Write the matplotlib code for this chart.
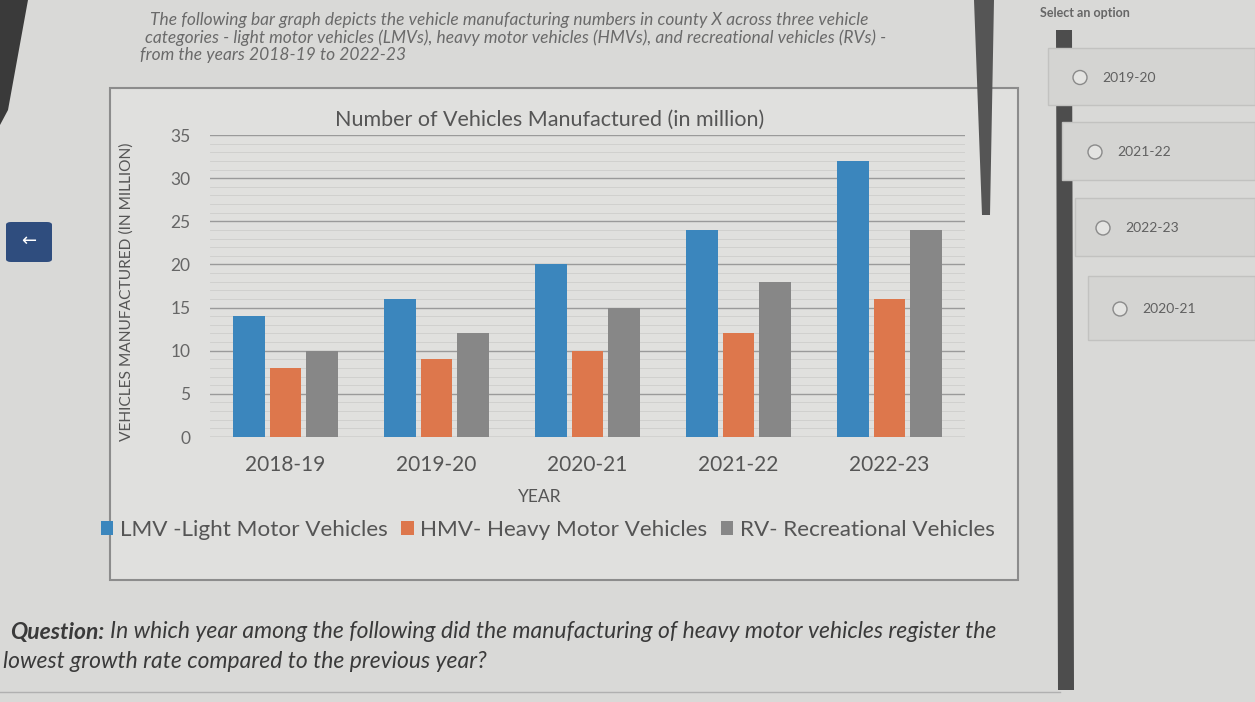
import matplotlib.pyplot as plt
import matplotlib.patches as mpatches
import numpy as np

years = ['2018-19', '2019-20', '2020-21', '2021-22', '2022-23']
lmv = [14, 16, 20, 24, 32]
hmv = [8, 9, 10, 12, 16]
rv = [10, 12, 15, 18, 24]
series_names = ['LMV -Light Motor Vehicles', 'HMV- Heavy Motor Vehicles', 'RV- Recreational Vehicles']
options = ['2019-20', '2021-22', '2022-23', '2020-21']

W, H = 1255, 702
BG = '#d9d9d7'
TXT = '#555555'
colors = ['#3b86bd', '#dd774c', '#878787']

plt.rcParams['font.family'] = ['Lato', 'DejaVu Sans']


def fx(x):
    return x / W


def fy(y):
    return 1 - y / H


fig = plt.figure(figsize=(W / 100, H / 100), dpi=100)
fig.patch.set_facecolor(BG)

# chart frame
fig.add_artist(mpatches.Rectangle((fx(110), fy(580)), fx(1018) - fx(110), fy(88) - fy(580),
                                  transform=fig.transFigure, facecolor='#e0e0de',
                                  edgecolor='#8c8c8c', lw=1.5, zorder=0))

ax = fig.add_axes([fx(210), fy(437), fx(965) - fx(210), fy(135) - fy(437)])
ax.set_facecolor('none')
x = np.arange(len(years))
w = 0.21
step = 0.24
for i, vals in enumerate([lmv, hmv, rv]):
    ax.bar(x + (i - 1) * step, vals, width=w, color=colors[i], label=series_names[i], zorder=3)

ax.set_xlim(-0.5, len(years) - 0.5)
ax.set_ylim(0, 35)
ax.set_yticks(range(0, 36, 5))
ax.set_yticks(range(0, 36, 1), minor=True)
ax.grid(axis='y', which='major', color='#9a9a9a', lw=1.0, zorder=1)
ax.grid(axis='y', which='minor', color='#cdcdcb', lw=0.6, zorder=1)
ax.set_xticks(x)
ax.set_xticklabels(years)
for s in ax.spines.values():
    s.set_visible(False)
ax.tick_params(axis='both', which='both', length=0)
ax.tick_params(axis='x', labelsize=15, labelcolor=TXT, pad=13)
ax.tick_params(axis='y', labelsize=12.5, labelcolor='#666666', pad=14)

fig.text(fx(550), fy(120), 'Number of Vehicles Manufactured (in million)', ha='center', va='center',
         fontsize=15.5, color=TXT)
fig.text(fx(127), fy(292), 'VEHICLES MANUFACTURED (IN MILLION)', rotation=90, ha='center', va='center',
         fontsize=11.2, color=TXT)
fig.text(fx(540), fy(497), 'YEAR', ha='center', va='center', fontsize=12.5, color=TXT)

handles, labels = ax.get_legend_handles_labels()
fig.legend(handles, labels, loc='center', bbox_to_anchor=(fx(548), fy(530)), ncol=3, frameon=False,
           fontsize=16.2, handlelength=0.55, handleheight=0.55, handletextpad=0.3, columnspacing=0.6,
           labelcolor=TXT)

# intro text
intro = ['The following bar graph depicts the vehicle manufacturing numbers in county X across three vehicle',
         'categories - light motor vehicles (LMVs), heavy motor vehicles (HMVs), and recreational vehicles (RVs) -',
         'from the years 2018-19 to 2022-23']
for i, line in enumerate(intro):
    fig.text(fx(150 - 5 * i), fy(20 + 17.5 * i), line, ha='left', va='center', fontsize=12.5,
             color='#6a6a6a', style='italic')

# question text
q1 = fig.text(fx(10), fy(632), 'Question:', ha='left', va='center', fontsize=16.5, color='#3a3a3a',
              weight='bold', style='italic')
ax.annotate('In which year among the following did the manufacturing of heavy motor vehicles register the',
            xy=(1, 0.5), xycoords=q1, xytext=(4, 0), textcoords='offset points', ha='left', va='center',
            fontsize=16.5, color='#3a3a3a', style='italic', annotation_clip=False)
fig.text(fx(3), fy(662), 'lowest growth rate compared to the previous year?', ha='left', va='center',
         fontsize=16.5, color='#3a3a3a', style='italic')

# screen bezel artefacts
fig.add_artist(mpatches.Polygon([(fx(1056), fy(30)), (fx(1072), fy(30)), (fx(1074), fy(690)), (fx(1058), fy(690))],
                                 closed=True, transform=fig.transFigure, facecolor='#4d4d4d', edgecolor='none'))
fig.add_artist(mpatches.Polygon([(fx(974), fy(0)), (fx(994), fy(0)), (fx(990), fy(215)), (fx(982), fy(215))],
                                 closed=True, transform=fig.transFigure, facecolor='#555555', edgecolor='none'))
fig.add_artist(mpatches.Polygon([(0, 1), (fx(28), 1), (fx(8), fy(110)), (0, fy(125))],
                                 closed=True, transform=fig.transFigure, facecolor='#3a3a3a', edgecolor='none'))
fig.add_artist(plt.Line2D([0, fx(1060)], [fy(692), fy(692)], transform=fig.transFigure, color='#b0b0b0', lw=1))

# back arrow button
fig.add_artist(mpatches.FancyBboxPatch((fx(6), fy(262)), fx(46), fy(222) - fy(262),
                                       boxstyle='round,pad=0,rounding_size=0.004', transform=fig.transFigure,
                                       facecolor='#2f4d7e', edgecolor='none'))
fig.text(fx(29), fy(241), '\u2190', ha='center', va='center', fontsize=13, color='white',
         family=['DejaVu Sans'])

# answer options panel
fig.text(fx(1040), fy(13), 'Select an option', ha='left', va='center', fontsize=9, color='#666666', weight='bold')
opt_boxes = [(1048, 48, 105), (1062, 122, 180), (1075, 198, 256), (1088, 276, 340)]
opt_circle_x = [1080, 1095, 1103, 1120]
for (bx, top, bot), cx, label in zip(opt_boxes, opt_circle_x, options):
    fig.add_artist(mpatches.Rectangle((fx(bx), fy(bot)), 1 - fx(bx), fy(top) - fy(bot),
                                      transform=fig.transFigure, facecolor='#d4d4d2',
                                      edgecolor='#c2c2c0', lw=1))
    ymid = (top + bot) / 2 + 1
    fig.add_artist(mpatches.Ellipse((fx(cx), fy(ymid)), 14 / W, 14 / H, transform=fig.transFigure,
                                    facecolor='#e4e4e2', edgecolor='#8a8a8a', lw=1))
    fig.text(fx(cx + 22), fy(ymid), label, ha='left', va='center', fontsize=10, color='#606060')

fig.savefig('out.png', dpi=100, facecolor=fig.get_facecolor())
